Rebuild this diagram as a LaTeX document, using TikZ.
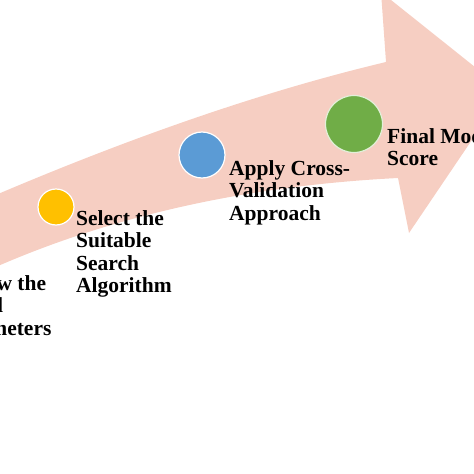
\documentclass[tikz,border=0pt]{standalone}
\usepackage{fontspec}
\setmainfont{Liberation Serif}
\usetikzlibrary{positioning}
\definecolor{arrowpink}{RGB}{246,206,194}
\definecolor{dotyellow}{RGB}{255,192,0}
\definecolor{dotblue}{RGB}{91,155,213}
\definecolor{dotgreen}{RGB}{112,173,71}
\definecolor{rimgreen}{RGB}{226,240,217}
\tikzset{
	stepdot/.style={circle, draw=white, line width=1.2pt, inner sep=0pt},
	steplabel/.style={anchor=north west, inner sep=0pt, align=left, font=\fontsize{21.5}{22.3}\selectfont\bfseries}
}
\begin{document}
\begin{tikzpicture}[x=1pt,y=-1pt]
		\useasboundingbox (0,0) rectangle (474,474);
		% the big arrow
		\fill[arrowpink] (-2,194) .. controls (130,138) and (260,92) .. (386,62) -- (381,-8) -- (505,91)
			-- (409,233) -- (398,178) .. controls (300,183) and (150,200) .. (-2,266) -- cycle;
		
		\draw (56,207) node[stepdot, fill=dotyellow, minimum size=36pt] (c1) {}
		(202,155) node[stepdot, fill=dotblue, minimum size=46pt] (c2) {}
		(354,124) node[stepdot, draw=rimgreen, fill=dotgreen, minimum size=57pt] (c3) {};
		
		\draw (-55,275.4) node[steplabel] (t0) {\phantom{Revie}w the\\ \phantom{Tune}d\\ \phantom{Para}meters}
		(76,210.4) node[steplabel] (t1) {Select the\\ Suitable\\ Search\\ Algorithm}
		(229,160.4) node[steplabel] (t2) {Apply Cross-\\ Validation\\ Approach}
		(387,128.4) node[steplabel] (t3) {Final Mod\\ Score};
	\end{tikzpicture}
\end{document}
